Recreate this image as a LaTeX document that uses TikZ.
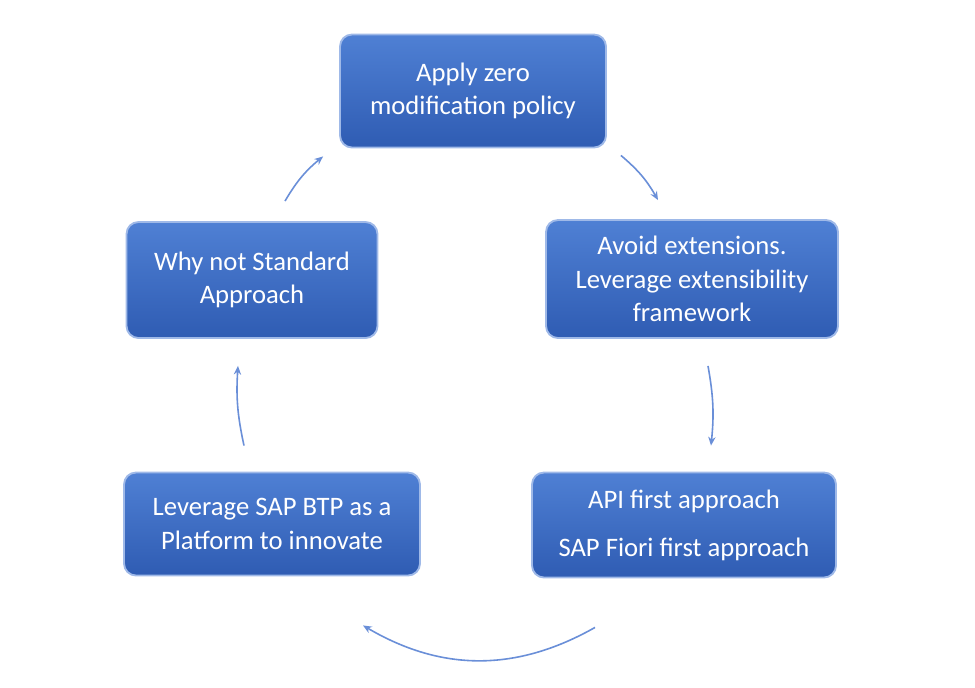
\documentclass[tikz,border=0pt]{standalone}
\usepackage{xcolor}
\usepackage{fontspec}
\setmainfont{Carlito}
\usepackage{tikz}
\usetikzlibrary{arrows.meta,calc}

\definecolor{boxtop}{HTML}{4F80D4}
\definecolor{boxbot}{HTML}{2F5CB3}
\definecolor{boxrim}{HTML}{9FB9E8}
\definecolor{arrblue}{HTML}{6A8FD8}

\begin{document}
\begin{tikzpicture}[x=0.75pt,y=-0.75pt,
    stepbox/.style={rounded corners=9pt,top color=boxtop,bottom color=boxbot,draw=boxrim,
      line width=1.4pt,text=white,align=center,inner sep=0pt,font=\fontsize{20}{25}\selectfont},
    cyc/.style={-{Stealth[length=6.5pt,width=5.5pt]},draw=arrblue,line width=1.2pt}]
    \useasboundingbox (0,0) rectangle (975,687);
    \node[stepbox,minimum width=199.5pt,minimum height=84.75pt] (apply) at (473,91)
      {Apply zero\\modification policy};
    \node[stepbox,minimum width=219pt,minimum height=88.5pt] (avoid) at (692,279)
      {Avoid extensions.\\Leverage extensibility\\framework};
    \node[stepbox,minimum width=228pt,minimum height=78.75pt] (api) at (684,525)
      {API first approach\\[11pt]SAP Fiori first approach};
    \node[stepbox,minimum width=222pt,minimum height=77.25pt] (btp) at (272,524)
      {Leverage SAP BTP as a\\Platform to innovate};
    \node[stepbox,minimum width=188.25pt,minimum height=87pt] (why) at (252,280)
      {Why not Standard\\Approach};
    % cycle arrows
    \draw[cyc] ($(why.north)+(33,-20)$) to[bend left=10] ($(apply.south west)+(-16,8)$);
    \draw[cyc] ($(apply.south east)+(14,7)$) to[bend left=10] ($(avoid.north)+(-34,-19)$);
    \draw[cyc] ($(avoid.south)+(16,27)$) to[bend left=8] ($(api.north)+(27,-26)$);
    \draw[cyc] ($(api.south)+(-89,49)$) to[bend left=30] ($(btp.south)+(91,49)$);
    \draw[cyc] ($(btp.north)+(-28,-26)$) to[bend left=8] ($(why.south)+(-14,27)$);
\end{tikzpicture}
\end{document}
